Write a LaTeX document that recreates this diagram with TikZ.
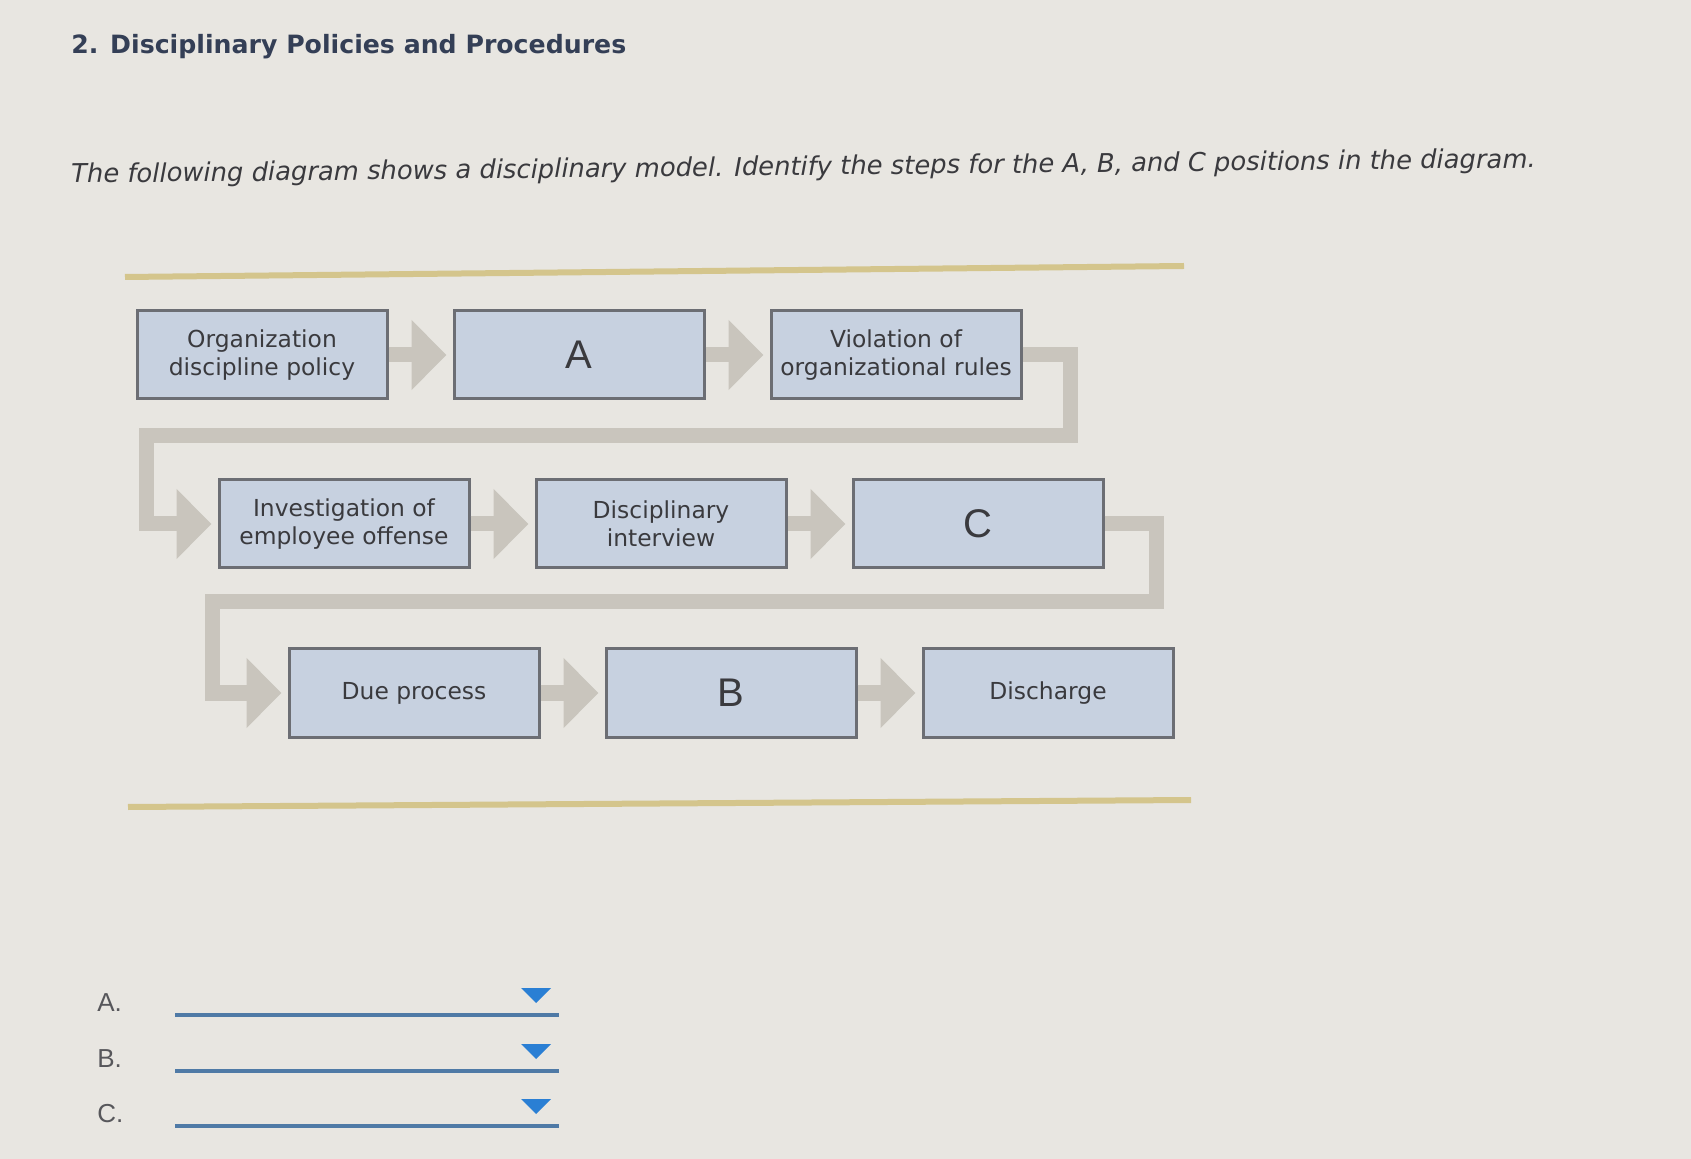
\documentclass[tikz,border=0pt]{standalone}
\usepackage{fontspec}
\setmainfont{DejaVu Sans}
\newfontfamily\arialfont{Liberation Sans}
\usetikzlibrary{arrows.meta}
\definecolor{paper}{RGB}{232,230,225}
\definecolor{boxfill}{RGB}{199,209,224}
\definecolor{boxline}{RGB}{108,110,116}
\definecolor{flowgray}{RGB}{201,197,189}
\definecolor{rulekhaki}{RGB}{212,197,140}
\definecolor{titleblue}{RGB}{52,63,86}
\definecolor{textgray}{RGB}{58,58,62}
\definecolor{answerline}{RGB}{79,122,166}
\definecolor{dropblue}{RGB}{42,127,212}

\begin{document}
\begin{tikzpicture}[x=0.5pt,y=-0.5pt,line cap=butt,line join=miter,>={Triangle[length=17.5pt,width=34pt]},
    stepbox/.style={draw=boxline,line width=1.5pt,fill=boxfill,minimum width=125pt,minimum height=44pt,inner sep=0pt,align=center,text=textgray,font=\fontsize{11.7}{14}\selectfont},
    letterbox/.style={stepbox,font=\arialfont\fontsize{20}{24}\selectfont},
    flow/.style={->,draw=flowgray,line width=7.5pt,shorten >=3pt}]
        \path[use as bounding box,fill=paper] (0,0) rectangle (1691,1159);
        \node[anchor=base west,inner sep=0pt,text=titleblue,font=\bfseries\fontsize{12.6}{15}\selectfont] (title) at (71,54) {2. Disciplinary Policies and Procedures};
        \node[anchor=base west,inner sep=0pt,rotate=0.6,text=textgray,font=\itshape\fontsize{12.9}{15}\selectfont] (intro) at (71,183) {The following diagram shows a disciplinary model. Identify the steps for the A, B, and C positions in the diagram.};
        \coordinate (topl) at (125,277);
        \coordinate (topr) at (1184,266);
        \coordinate (botl) at (128,807);
        \coordinate (botr) at (1191,800);
        \draw[rulekhaki,line width=3pt] (topl) -- (topr);
        \draw[rulekhaki,line width=3pt] (botl) -- (botr);
        % row 1
        \node[stepbox] (org) at (262,355) {Organization\\discipline policy};
        \node[letterbox] (a) at (579,355) {A};
        \node[stepbox] (viol) at (896,355) {Violation of\\organizational rules};
        % row 2
        \node[stepbox] (inv) at (344,524) {Investigation of\\employee offense};
        \node[stepbox] (intv) at (661,524) {Disciplinary\\interview};
        \node[letterbox] (c) at (978,524) {C};
        % row 3
        \node[stepbox] (due) at (414,693) {Due process};
        \node[letterbox] (b) at (731,693) {B};
        \node[stepbox] (dis) at (1048,693) {Discharge};
        \coordinate (c1r) at (1070,436);
        \coordinate (c1l) at (146,436);
        \coordinate (c2r) at (1156,602);
        \coordinate (c2l) at (212,602);
        \draw[flow] (org) -- (a);
        \draw[flow] (a) -- (viol);
        \draw[flow] (viol.east) -| (c1r) -- (c1l) |- (inv.west);
        \draw[flow] (inv) -- (intv);
        \draw[flow] (intv) -- (c);
        \draw[flow] (c.east) -| (c2r) -- (c2l) |- (due.west);
        \draw[flow] (due) -- (b);
        \draw[flow] (b) -- (dis);
        \foreach \lab/\y in {A/1015,B/1071,C/1126} {
          \node[anchor=base west,inner sep=0pt,text=textgray!85,font=\arialfont\fontsize{13}{15}\selectfont] (ans\lab) at (97,\y-4) {\lab.};
          \coordinate (ansl\lab) at (175,\y);
          \coordinate (ansr\lab) at (559,\y);
          \draw[answerline,line width=2pt] (ansl\lab) -- (ansr\lab);
          \fill[dropblue] (521,\y-27) -- (551,\y-27) -- (536,\y-12) -- cycle;
        }
\end{tikzpicture}
\end{document}
